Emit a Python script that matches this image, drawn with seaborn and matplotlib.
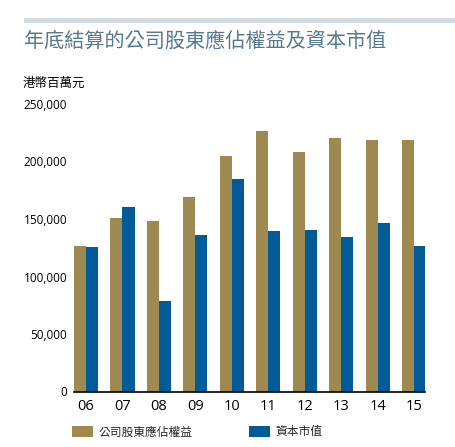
import pandas as pd
import matplotlib.pyplot as plt
import seaborn as sns
from matplotlib.ticker import FuncFormatter

years = ["06", "07", "08", "09", "10", "11", "12", "13", "14", "15"]
equity = [126300, 150700, 148100, 169000, 204700, 226500, 208200, 220400, 218600, 218600]
market_cap = [125400, 160300, 78400, 135900, 184700, 139400, 140200, 134100, 146300, 126300]
series_names = ["公司股東應佔權益", "資本市值"]
title = "年底結算的公司股東應佔權益及資本市值"
unit = "港幣百萬元"

gold = "#9e8a51"
blue = "#005b96"

sns.set_theme(style="white")
plt.rcParams['font.family'] = ['Open Sans', 'Noto Sans CJK TC', 'DejaVu Sans']

df = pd.DataFrame({
	"year": years * 2,
	"value": equity + market_cap,
	"series": [series_names[0]] * len(years) + [series_names[1]] * len(years),
})

fig = plt.figure(figsize=(4.56, 4.47), dpi=100)
ax = fig.add_axes([74 / 456, 1 - 391.5 / 447, 351 / 456, 287.5 / 447])

sns.barplot(data=df, x="year", y="value", hue="series", palette=[gold, blue],
	width=0.66, saturation=1, linewidth=0, edgecolor="none", ax=ax)

ax.set_ylim(0, 250000)
ax.set_xlim(-0.33, len(years) - 1 + 0.3)
ax.set_yticks(range(0, 250001, 50000))
ax.yaxis.set_major_formatter(FuncFormatter(lambda v, p: f"{int(v):,}"))
ax.set_xlabel("")
ax.set_ylabel("")
for side in ["top", "right", "left"]:
	ax.spines[side].set_visible(False)
ax.spines["bottom"].set_color("black")
ax.spines["bottom"].set_linewidth(1.2)
ax.tick_params(axis="y", length=0, pad=5, labelsize=8.5, labelcolor="black")
ax.tick_params(axis="x", length=0, pad=5.5, labelsize=10.5, labelcolor="black")

handles, labels = ax.get_legend_handles_labels()
ax.legend(handles, labels, loc="center left", ncol=2, frameon=False,
	bbox_to_anchor=(72 / 456, 1 - 432 / 447), bbox_transform=fig.transFigure,
	fontsize=8.5, handlelength=1.8, handleheight=0.95, handletextpad=0.45,
	columnspacing=4.8, borderpad=0, borderaxespad=0)

# header rule and title
fig.add_artist(plt.Rectangle((24 / 456, 1 - 23 / 447), 432 / 456, 5 / 447,
	transform=fig.transFigure, color="#d2dbe2", lw=0))
fig.text(24 / 456, 1 - 42 / 447, title, fontsize=14.5, color="#56798f", va="center")
fig.text(23 / 456, 1 - 83 / 447, unit, fontsize=9, color="black", va="center")

fig.savefig("out.png", dpi=100)
